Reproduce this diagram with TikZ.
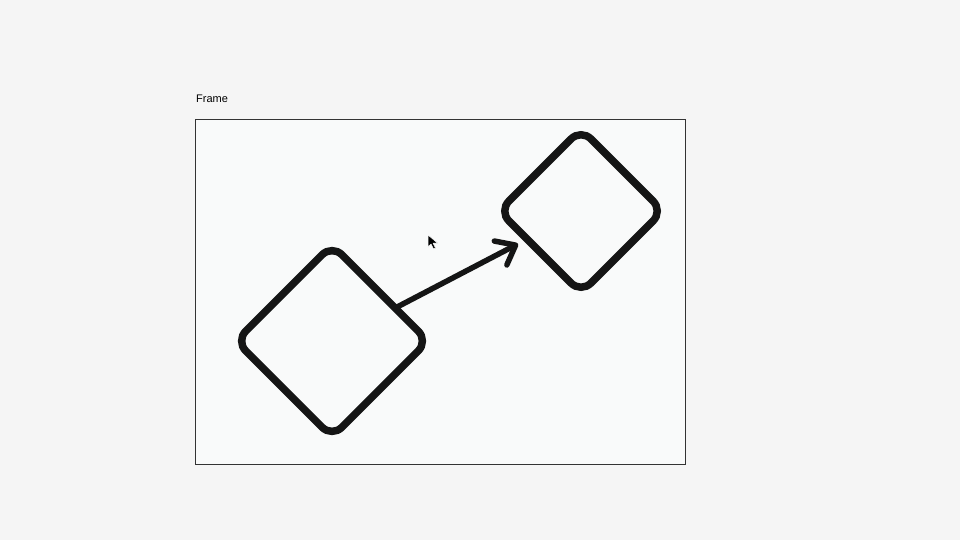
\documentclass[tikz,border=0pt]{standalone}
\usepackage{fontspec}
\setmainfont{Liberation Sans}
\usetikzlibrary{arrows.meta}
\definecolor{bgc}{HTML}{F5F5F5}
\definecolor{framefill}{HTML}{F9FAFA}
\definecolor{framedraw}{HTML}{333333}
\definecolor{ink}{HTML}{151515}
\tikzset{
  diamondbox/.style={draw=ink, line width=7.5pt, rectangle, rotate=45, rounded corners=14pt, inner sep=0pt, fill=none},
  conn/.style={draw=ink, line width=5.5pt, line cap=round, -{Straight Barb[length=17pt,width=27pt,round]}},
  framebox/.style={draw=framedraw, line width=0.8pt, fill=framefill},
  framelabel/.style={font=\fontsize{11}{13}\selectfont, text=black, anchor=base west, inner sep=0pt}
}
\begin{document}
\begin{tikzpicture}[x=1pt,y=-1pt]
  \useasboundingbox (0,0) rectangle (960,540);
  \fill[bgc] (0,0) rectangle (960,540);
  \node[framelabel] (lbl) at (196,103) {Frame};
  \path[framebox] (195,119) rectangle (685,464);
  \node[diamondbox, minimum width=136pt, minimum height=136pt] (d1) at (332,341) {};
  \node[diamondbox, minimum width=116pt, minimum height=116pt] (d2) at (581,211) {};
  \draw[conn, shorten <=71pt, shorten >=71pt] (d1.center) -- (d2.center);
  \coordinate (cur) at (428,235);
  \filldraw[fill=black, draw=white, line width=0.5pt, line join=round]
    (cur) -- ++(0,12) -- ++(3,-3) -- ++(2.5,5) -- ++(2,-1) -- ++(-2.5,-5) -- ++(4.5,0) -- cycle;
\end{tikzpicture}
\end{document}
